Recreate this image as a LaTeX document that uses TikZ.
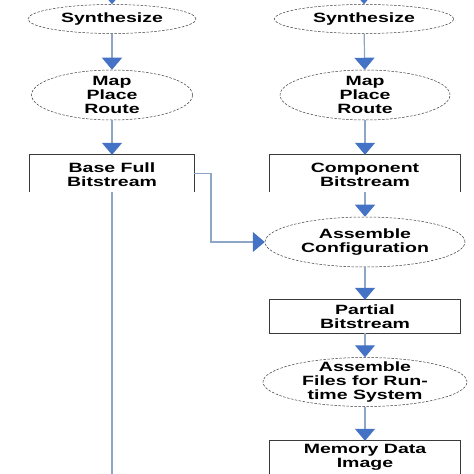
\documentclass[tikz,border=0pt]{standalone}
\usepackage{fontspec}
\setmainfont{Liberation Sans}[FakeStretch=1.45]
\usetikzlibrary{shapes.geometric,arrows.meta}
\definecolor{linec}{HTML}{8EA6C6}
\definecolor{tipc}{HTML}{4472C4}
\definecolor{edgec}{HTML}{3A3A3A}
\begin{document}
\begin{tikzpicture}[x=1bp,y=-1bp,
  txt/.style={font=\bfseries\fontsize{13.5}{13.8}\selectfont,align=center,inner sep=0pt},
  ell/.style={ellipse,draw=edgec,line width=0.5bp,dash pattern=on 2.5bp off 1.5bp,inner sep=0pt},
  boxn/.style={rectangle,draw=none,inner sep=0pt,minimum width=190bp},
  edge/.style={draw=edgec,line width=0.9bp},
  arr/.style={draw=linec,line width=1.2bp,-{Triangle[width=20bp,length=12bp,color=tipc]}},
  conn/.style={draw=linec,line width=1.2bp}]
\useasboundingbox (0,0) rectangle (474,474);
% left column
\node[ell,minimum width=168bp,minimum height=29bp,label={[txt]center:Synthesize}] (s1) at (112,19) {};
\node[ell,minimum width=161bp,minimum height=50bp,label={[txt]center:Map\\Place\\Route}] (m1) at (112,95) {};
\node[boxn,minimum width=164bp,minimum height=37bp,label={[txt,yshift=-1.5bp]center:Base Full\\Bitstream}] (b1) at (112,173.5) {};
\draw[edge] (b1.south west) -- (b1.north west) -- (b1.north east) -- (b1.south east);
% right column
\node[ell,minimum width=179bp,minimum height=29bp,label={[txt]center:Synthesize}] (s2) at (364,19) {};
\node[ell,minimum width=170bp,minimum height=50bp,label={[txt]center:Map\\Place\\Route}] (m2) at (365,95) {};
\node[boxn,minimum height=37bp,label={[txt,yshift=-1.5bp]center:Component\\Bitstream}] (c2) at (365,173.5) {};
\draw[edge] (c2.south west) -- (c2.north west) -- (c2.north east) -- (c2.south east);
\node[ell,minimum width=200bp,minimum height=50bp,label={[txt]center:Assemble\\Configuration}] (a2) at (365,242) {};
\node[boxn,minimum height=33bp,label={[txt]center:Partial\\Bitstream}] (p2) at (365,316.5) {};
\draw[edge] (p2.south west) rectangle (p2.north east);
\node[ell,minimum width=204bp,minimum height=49bp,label={[txt]center:Assemble\\Files for Run-\\time System}] (f2) at (365,382) {};
\node[boxn,minimum height=33bp,label={[txt]center:Memory Data\\Image}] (mem) at (365,457.5) {};
\draw[edge] (mem.north west) ++(0,40) -- (mem.north west) -- (mem.north east) -- ++(0,40);
% connectors
\coordinate (t1) at (112,-20);
\coordinate (t2) at (364,-20);
\coordinate (elb) at (211,242);
\coordinate (bot) at (112,490);
\draw[arr] (t1) -- (s1);
\draw[arr] (t2) -- (s2);
\draw[arr] (s1) -- (m1);
\draw[arr] (m1) -- (b1);
\draw[arr] (s2) -- (m2);
\draw[arr] (m2) -- (c2);
\draw[arr] (c2) -- (a2);
\draw[arr] (a2) -- (p2);
\draw[arr] (p2) -- (f2);
\draw[arr] (f2) -- (mem);
\draw[conn] (b1.south) -- (bot);
\draw[conn,-{Triangle[width=20bp,length=12bp,color=tipc]}] (b1.east) -| (elb) -- (a2.west);
\end{tikzpicture}
\end{document}
